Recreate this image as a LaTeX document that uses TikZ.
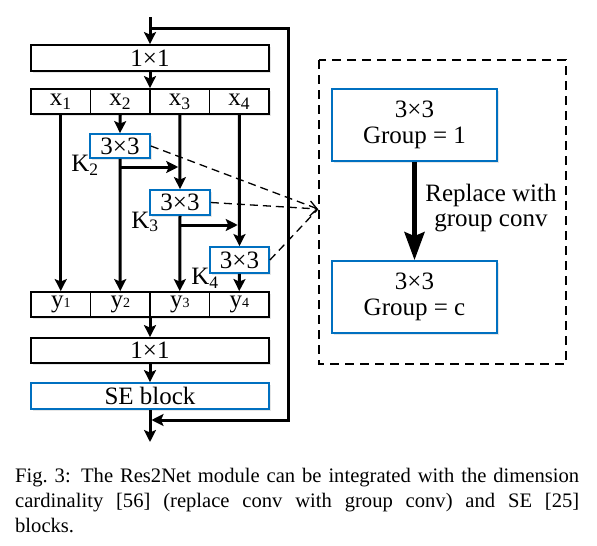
\documentclass[tikz,border=0pt]{standalone}
\usepackage{fontspec}
\setmainfont{Liberation Serif}
\usetikzlibrary{calc,arrows.meta,shadows}
\definecolor{convblue}{RGB}{0,112,192}

\begin{document}
\begin{tikzpicture}[x=1pt,y=-1pt,
	conv/.style={draw=black,line width=1.8pt,fill=white,inner sep=0pt,
		minimum height=25pt,font=\fontsize{25}{26}\selectfont,
		drop shadow={shadow xshift=1.5pt,shadow yshift=-1.5pt,opacity=0.2}},
	blueconv/.style={conv,draw=convblue},
	cell/.style={conv,minimum width=59.5pt},
	klabel/.style={inner sep=0pt,font=\fontsize{25}{26}\selectfont},
	arr/.style={line width=3pt,-{Stealth[length=12pt,width=12pt,inset=2.5pt]}},
	link/.style={line width=1.3pt,dash pattern=on 8pt off 5pt},
	]
\useasboundingbox (0,0) rectangle (597,546);
		%% Res2Net module
		\node[conv,minimum width=238pt,minimum height=26pt] (conv1) at (150,58) {1×1};
		\node[cell] (x1) at (60.75,101.5) {x\textsubscript{1}};
		\node[cell] (x2) at (120.25,101.5) {x\textsubscript{2}};
		\node[cell] (x3) at (179.75,101.5) {x\textsubscript{3}};
		\node[cell] (x4) at (239.25,101.5) {x\textsubscript{4}};
		\node[blueconv,minimum width=60pt,minimum height=24pt] (k2) at (120,146) {3×3};
		\node[blueconv,minimum width=60pt] (k3) at (180,202.5) {3×3};
		\node[blueconv,minimum width=59pt,minimum height=26pt] (k4) at (239.5,260) {3×3};
		\node[klabel] (lk2) at (85,165) {K\textsubscript{2}};
		\node[klabel] (lk3) at (145,222) {K\textsubscript{3}};
		\node[klabel] (lk4) at (205,278) {K\textsubscript{4}};
		\node[cell] (y1) at (60.75,304.5) {y{\fontsize{14}{14}\selectfont 1}};
		\node[cell] (y2) at (120.25,304.5) {y{\fontsize{14}{14}\selectfont 2}};
		\node[cell] (y3) at (179.75,304.5) {y{\fontsize{14}{14}\selectfont 3}};
		\node[cell] (y4) at (239.25,304.5) {y{\fontsize{14}{14}\selectfont 4}};
		\node[conv,minimum width=238pt] (conv2) at (150,350.5) {1×1};
		\node[blueconv,minimum width=238pt,minimum height=26pt] (se) at (150,396) {SE block};
		\coordinate (In) at (150,17);
		\coordinate (Out) at (150,442);
		\coordinate (S) at (150,28);
		\coordinate (T) at (150,420);
		\coordinate (J2) at (120,167);
		\coordinate (J3) at (180,225);
		\draw[arr] (In) -- (conv1.north);
		\draw[arr] (conv1.south) -- (conv1.south |- x2.north);
		\draw[arr] (x1.south) -- (y1.north);
		\draw[arr] (x2.south) -- (k2.north);
		\draw[arr] (k2.south) -- (y2.north);
		\draw[arr] (x3.south) -- (k3.north);
		\draw[arr] (k3.south) -- (y3.north);
		\draw[arr] (x4.south) -- (k4.north);
		\draw[arr] (k4.south) -- (y4.north);
		\draw[arr,shorten >=1.5pt] (J2) -- (J2 -| x3.south);
		\draw[arr,shorten >=1.5pt] (J3) -- (J3 -| x4.south);
		\draw[arr] (conv2.north |- y2.south) -- (conv2.north);
		\draw[arr] (conv2.south) -- (se.north);
		\draw[arr] (se.south) -- (Out);
		\draw[arr,shorten >=1.5pt] (S) -- (288,28) -- (288,420) -- (T);
		%% group conv
		\draw[line width=1.3pt,dash pattern=on 9pt off 6pt] (319,60) rectangle (566,364);
		\node[blueconv,minimum width=165pt,minimum height=72pt,align=center] (g1) at (414.5,125) {3×3\\Group = 1};
		\node[blueconv,minimum width=165pt,minimum height=72pt,align=center] (gc) at (414.5,297) {3×3\\Group = c};
		\node[align=center,inner sep=0pt,font=\fontsize{25}{25}\selectfont] (rep) at (491,208) {Replace with\\group conv};
		\draw[line width=4.5pt,-{Stealth[length=28pt,width=20pt,inset=4pt]}] (g1.south) -- (gc.north);
		\coordinate (M) at (318,209);
		\draw[link] (k2.east) -- (M);
		\draw[link,-{Straight Barb[length=7pt,width=15pt]}] (k3.east) -- (M);
		\draw[link] (k4.east) -- (M);
		%% caption
		\node[anchor=north west,inner sep=0pt,text width=564pt,align=justify,
			font=\fontsize{20.6}{25}\selectfont] (cap) at (15,468)
			{Fig.\ 3: The Res2Net module can be integrated with the dimension \linebreak cardinality [56] (replace conv with group conv) and SE [25] \linebreak blocks.};
\end{tikzpicture}
\end{document}
